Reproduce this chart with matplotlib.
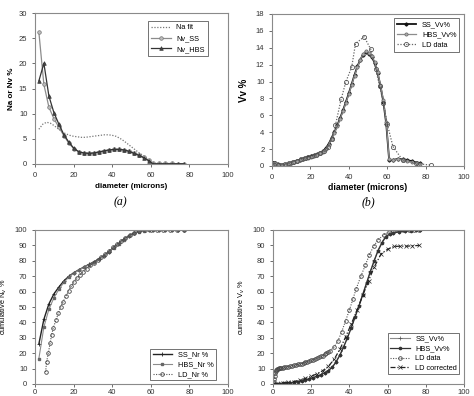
import matplotlib
matplotlib.use("Agg")
import matplotlib.pyplot as plt

plt.rcParams['font.family'] = ['Liberation Sans', 'DejaVu Sans']

# ---------------- Panel (a) ----------------
xa = [2.0, 4.6, 7.2, 9.8, 12.4, 15.0, 17.6, 20.2, 22.8, 25.4, 28.0, 30.6, 33.2, 35.8,
      38.4, 41.0, 43.6, 46.2, 48.8, 51.4, 54.0, 56.6, 59.2, 61.0, 64.0, 67.5, 71.0, 74.0, 77.0]
nv_ss = [26.2, 15.8, 11.3, 9.0, 7.3, 5.6, 4.1, 3.0, 2.4, 2.2, 2.1, 2.2, 2.4, 2.6,
         2.8, 2.9, 2.9, 2.8, 2.6, 2.2, 1.8, 1.3, 0.7, 0.1, 0.1, 0.1, 0.1, 0.05, 0.05]
nv_hbs = [16.5, 20.0, 13.5, 10.2, 7.9, 5.8, 4.3, 3.1, 2.4, 2.2, 2.1, 2.2, 2.4, 2.6,
          2.8, 2.9, 2.9, 2.8, 2.5, 2.1, 1.7, 1.2, 0.6, 0.05, 0.05, 0.05, 0.05, 0.05, 0.05]
x_fit = [2, 4, 6, 8, 10, 12, 14, 16, 18, 20, 22, 24, 26, 28, 30, 32, 34, 36, 38, 40,
         42, 44, 46, 48, 50, 52, 54, 56, 58, 60, 61]
na_fit = [6.9, 7.9, 8.3, 8.1, 7.6, 7.0, 6.4, 6.0, 5.7, 5.5, 5.4, 5.3, 5.3, 5.4, 5.5, 5.6,
          5.7, 5.8, 5.8, 5.7, 5.5, 5.1, 4.6, 4.0, 3.4, 2.8, 2.2, 1.7, 1.1, 0.4, 0.0]

# ---------------- Panel (b) ----------------
xb = [0.3, 0.6, 1.0, 1.4, 1.8, 2.3, 3.0, 4.0, 5.5, 7.0, 8.5, 10, 11.5, 13, 14.5, 16, 17.5,
      19, 20.5, 22, 23.5, 25, 26.5, 28, 29.5, 31, 32.5, 34, 35.5, 37, 38.5, 40, 41.5, 43,
      44.5, 46, 47.5, 49, 50.5, 52, 53.5, 55, 56.5, 58, 59.5, 61, 63, 65.5, 68, 70.5, 73,
      75.5, 77]
ss_vv = [0.3, 0.35, 0.4, 0.35, 0.3, 0.25, 0.2, 0.15, 0.1, 0.15, 0.25, 0.35, 0.5, 0.6, 0.75,
         0.85, 0.95, 1.05, 1.15, 1.25, 1.4, 1.55, 1.75, 2.1, 2.6, 3.3, 4.0, 4.8, 5.7, 6.6,
         7.6, 8.6, 9.7, 10.8, 11.8, 12.6, 13.2, 13.5, 13.3, 12.9, 12.2, 11.0, 9.5, 7.6, 5.0,
         0.75, 0.7, 0.85, 0.8, 0.7, 0.55, 0.4, 0.3]
hbs_vv = [0.2, 0.25, 0.3, 0.3, 0.25, 0.2, 0.15, 0.1, 0.1, 0.15, 0.2, 0.3, 0.45, 0.55, 0.7,
          0.8, 0.9, 1.0, 1.1, 1.2, 1.35, 1.5, 1.7, 2.0, 2.5, 3.2, 3.9, 4.7, 5.6, 6.5, 7.5,
          8.5, 9.6, 10.7, 11.7, 12.6, 13.3, 13.6, 13.4, 13.0, 12.3, 11.1, 9.6, 7.8, 5.2,
          0.8, 0.75, 0.8, 0.75, 0.6, 0.45, 0.3, 0.2]
x_ld_b = [1, 3, 5, 7, 9, 11, 13, 15, 17, 19, 21, 23, 25, 27, 29, 31, 33, 36, 38.5, 41.5,
          43.5, 48, 51.5, 54, 56, 58, 60, 63, 68, 75, 83]
ld_vv = [0.1, 0.1, 0.15, 0.2, 0.3, 0.5, 0.65, 0.8, 0.95, 1.05, 1.15, 1.3, 1.5, 1.8, 2.3,
         3.2, 4.8, 7.9, 10.0, 11.7, 14.5, 15.3, 13.8, 11.5, 9.5, 7.5, 5.0, 2.3, 0.7, 0.3, 0.1]

# ---------------- Panel (c) ----------------
xc = [2, 4.6, 7.2, 9.8, 12.4, 15, 17.6, 20.2, 22.8, 25.4, 28, 30.6, 33.2, 35.8, 38.4, 41,
      43.6, 46.2, 48.8, 51.4, 54, 56.6, 59.2, 61, 64, 67.5, 71, 74, 77]
ss_nr = [26, 42, 52, 58.5, 63, 67, 70, 72.3, 74.2, 76, 77.7, 79.4, 81.2, 83.4, 86, 88.7,
         91.4, 94, 96.2, 98, 99.1, 99.7, 100, 100, 100, 100, 100, 100, 100]
hbs_nr = [16.5, 37, 48.5, 56, 61.5, 66, 69.5, 72, 74, 75.8, 77.5, 79.2, 81, 83.2, 85.8,
          88.5, 91.2, 93.8, 96, 97.8, 99, 99.6, 99.9, 100, 100, 100, 100, 100, 100]
x_ld_c = [5.5, 6.0, 6.9, 7.8, 8.6, 9.5, 10.9, 12.1, 13.3, 14.6, 16, 17.4, 18.8, 20.2, 21.8,
          23.4, 25, 26.8, 28.6, 30.5, 32.4, 34.3, 36.3, 38.3, 40.3, 42.4, 44.6, 46.8, 49,
          51.5, 54, 57, 60, 63, 66.5, 70, 73.5, 77]
ld_nr = [7.8, 14.3, 19.9, 26.4, 31.8, 36.6, 41.6, 45.9, 50, 53.5, 57, 60.5, 63.5, 66.5, 69,
         71, 73, 75, 77, 78.8, 80.5, 82.3, 84.3, 86.5, 88.8, 91, 93, 95, 96.8, 98.2, 99.2,
         99.7, 100, 100, 100, 100, 100, 100]

# ---------------- Panel (d) ----------------
xd = [0, 1, 2, 3, 5, 7, 9, 11, 13, 15, 17, 19, 21, 23, 25, 27, 29, 31, 33, 35, 37, 39, 41,
      43, 45, 47, 49, 51, 53, 55, 57, 59, 61, 63, 66, 69, 72, 75, 77]
ss_cum = [0, 0.2, 0.3, 0.4, 0.5, 0.7, 0.9, 1.2, 1.6, 2.1, 2.7, 3.4, 4.2, 5.1, 6.1, 7.3, 8.8,
          11, 14.5, 19, 24.5, 30.5, 37, 44, 51, 58.5, 66, 73.5, 80.5, 87, 92, 96, 97.5,
          98.3, 99, 99.4, 99.7, 99.9, 100]
hbs_cum = [0, 0.1, 0.2, 0.3, 0.4, 0.6, 0.8, 1.1, 1.5, 2.0, 2.6, 3.3, 4.1, 5.0, 6.0, 7.2, 8.7,
           10.8, 14.2, 18.6, 24, 30, 36.5, 43.5, 50.5, 58, 65.5, 73, 80, 86.5, 91.5, 95.5,
           97.2, 98, 98.8, 99.3, 99.6, 99.8, 100]
x_ld_d = [0, 0.3, 0.6, 0.9, 1.2, 1.5, 1.8, 2.1, 2.5, 3, 3.5, 4, 5, 6, 7, 8, 9, 10, 11, 12,
          13, 14, 15, 16, 17, 18, 19, 20, 21, 22, 23, 24, 25, 26, 27, 28, 29, 30, 32, 34,
          36, 38, 40, 41.8, 43.6, 46, 48.3, 50.5, 52.7, 55, 58, 60.5, 63, 65.5, 68, 71, 74,
          76.5]
ld_cum = [0, 1.5, 3.5, 5.5, 7, 8.2, 9, 9.6, 9.9, 10.1, 10.3, 10.5, 10.7, 10.9, 11.1, 11.3,
          11.5, 11.8, 12.1, 12.4, 12.7, 13, 13.3, 13.7, 14.1, 14.5, 14.9, 15.3, 15.8, 16.3,
          16.8, 17.3, 17.9, 18.5, 19.2, 19.9, 20.7, 21.6, 24, 28, 34, 41, 48, 55, 62, 70,
          77, 84, 89.5, 93.5, 97, 98.5, 99.3, 99.7, 100, 100, 100, 100]
x_ldc = [0, 2, 5, 8, 11, 14, 17, 20, 23, 26, 29, 32, 35, 38, 41, 44, 47, 50, 53, 56.6, 60,
         63.3, 66.5, 69.8, 73, 76.4]
ldc_cum = [0, 0.2, 0.5, 1.0, 1.6, 2.5, 3.6, 5, 6.6, 8.6, 11.5, 16, 22.5, 30.5, 39, 48, 57.5,
           67, 76, 84.5, 87.5, 89.3, 89.5, 89.5, 89.7, 90]

xticks = [0, 20, 40, 60, 80, 100]

W, H = 474, 396
fig = plt.figure(figsize=(W / 100, H / 100), dpi=100)


def make_ax(l, r, t, b):
    return fig.add_axes([l / W, 1 - b / H, (r - l) / W, (b - t) / H])


def style(ax, ymax, ystep, xpad=3):
    ax.set_xlim(0, 100)
    ax.set_ylim(0, ymax)
    ax.set_xticks(xticks)
    ax.set_yticks(range(0, ymax + 1, ystep))
    for s in ax.spines.values():
        s.set_color('#8a8a8a')
        s.set_linewidth(0.8)
    ax.tick_params(direction='out', length=2.5, width=0.6, color='#555555',
                   labelsize=5.5, labelcolor='#333333', pad=3)
    ax.tick_params(axis='x', pad=xpad)


GRAY = '#8c8c8c'
DARK = '#333333'

# (a)
ax1 = make_ax(35, 228, 13, 164)
style(ax1, 30, 5)
ax1.plot(x_fit, na_fit, ls=(0, (1, 1.3)), color='#777777', lw=0.9, label='Na fit')
ax1.plot(xa, nv_ss, '-', color=GRAY, lw=0.9, marker='o', ms=2.6, mfc='#bbbbbb',
         mec='#777777', mew=0.5, label='Nv_SS')
ax1.plot(xa, nv_hbs, '-', color=DARK, lw=0.9, marker='^', ms=2.6, mfc='#444444',
         mec='#333333', mew=0.5, label='Nv_HBS')
ax1.set_xlabel('diameter (microns)', fontsize=5.8, fontweight='bold', labelpad=3)
ax1.set_ylabel('Na or Nv %', fontsize=5.8, fontweight='bold', labelpad=3)
leg = ax1.legend(loc='upper right', fontsize=5.3, frameon=True, fancybox=False,
                 edgecolor='#333333', handlelength=2.6, borderpad=0.4, labelspacing=0.5,
                 bbox_to_anchor=(0.915, 0.97))
leg.get_frame().set_linewidth(0.6)

# (b)
ax2 = make_ax(272, 464, 14, 166)
style(ax2, 18, 2)
ax2.plot(xb, ss_vv, '-', color='#111111', lw=1.3, marker='D', ms=1.6, mfc='#111111',
         mec='#111111', label='SS_Vv%')
ax2.plot(xb, hbs_vv, '-', color=GRAY, lw=0.9, marker='o', ms=2.3, mfc='#aaaaaa',
         mec='#666666', mew=0.5, label='HBS_Vv%')
ax2.plot(x_ld_b, ld_vv, ls=(0, (1, 1.3)), color='#666666', lw=0.9, marker='o', ms=3,
         mfc='none', mec='#555555', mew=0.6, label='LD data')
ax2.set_xlabel('diameter (microns)', fontsize=6.3, fontweight='bold', labelpad=2)
ax2.set_ylabel('Vv %', fontsize=7, fontweight='bold', labelpad=5)
leg = ax2.legend(loc='upper right', fontsize=5.3, frameon=True, fancybox=False,
                 edgecolor='#333333', handlelength=2.6, borderpad=0.4, labelspacing=0.4,
                 bbox_to_anchor=(0.995, 0.995))
leg.get_frame().set_linewidth(0.6)

# (c)
ax3 = make_ax(35, 228, 230, 384)
style(ax3, 100, 10, xpad=1.2)
ax3.plot(xc, ss_nr, '-', color='#222222', lw=1.0, marker='+', ms=2.8, mew=0.6,
         label='SS_Nr %')
ax3.plot(xc, hbs_nr, '-', color=GRAY, lw=0.8, marker='s', ms=1.6, mfc='#666666',
         mec='#666666', label='HBS_Nr %')
ax3.plot(x_ld_c, ld_nr, ls=(0, (1, 1.3)), color='#555555', lw=0.8, marker='o', ms=2.6,
         mfc='none', mec='#444444', mew=0.6, label='LD_Nr %')
ax3.set_ylabel('cumulative N$_v$ %', fontsize=5.3, labelpad=4)
leg = ax3.legend(loc='lower right', fontsize=5.3, frameon=True, fancybox=False,
                 edgecolor='#333333', handlelength=2.6, borderpad=0.3, labelspacing=0.35,
                 bbox_to_anchor=(0.955, 0.0))
leg.get_frame().set_linewidth(0.6)

# (d)
ax4 = make_ax(273, 464, 230, 384)
style(ax4, 100, 10, xpad=1.2)
ax4.plot(xd, ss_cum, '-', color=GRAY, lw=0.8, marker='+', ms=2.5, mew=0.5,
         mec='#555555', label='SS_Vv%')
ax4.plot(xd, hbs_cum, '-', color='#333333', lw=0.9, marker='o', ms=1.6, mfc='#333333',
         mec='#333333', label='HBS_Vv%')
ax4.plot(x_ld_d, ld_cum, ls=(0, (1, 1.3)), color='#555555', lw=0.8, marker='o', ms=2.6,
         mfc='none', mec='#444444', mew=0.6, label='LD data')
ax4.plot(x_ldc, ldc_cum, ls=(0, (4, 1.5, 1, 1.5)), color='#222222', lw=0.9, marker='x',
         ms=2.3, mew=0.5, label='LD corrected')
ax4.set_ylabel('cumulative V$_v$ %', fontsize=5.3, labelpad=4)
leg = ax4.legend(loc='lower right', fontsize=5.3, frameon=True, fancybox=False,
                 edgecolor='#333333', handlelength=2.6, borderpad=0.3, labelspacing=0.35,
                 bbox_to_anchor=(0.995, 0.04))
leg.get_frame().set_linewidth(0.6)

# panel captions
fig.text(120 / W, 1 - 202 / H, '(a)', ha='center', va='center', fontsize=8.5,
         family='Liberation Serif', style='italic')
fig.text(368 / W, 1 - 202 / H, '(b)', ha='center', va='center', fontsize=8.5,
         family='Liberation Serif', style='italic')

fig.savefig('out.png', dpi=100)
